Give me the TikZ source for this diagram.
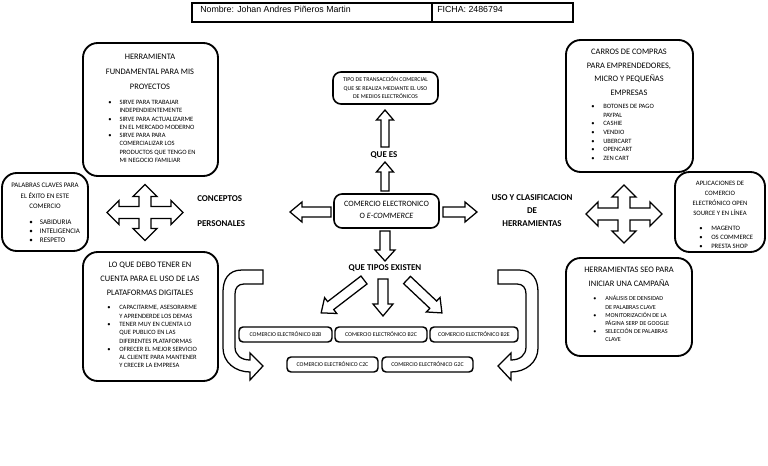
\documentclass[tikz,border=0pt]{standalone}
\usepackage{fontspec}
\setmainfont{Carlito}
\newfontfamily\hdrfont{Liberation Sans}
\usetikzlibrary{fit}
\newcommand\ctext[1]{\begin{tabular}[t]{@{}c@{}}#1\end{tabular}}
\newcommand\blist[2]{\begin{tabular}[t]{@{}p{#1}@{}l@{}}#2\end{tabular}}
\newcommand\barrow[6]{\draw[arrowline, shift={(#1)}, rotate=#2] (0,-#4) -- ({#3-#6},-#4) -- ({#3-#6},-#5) -- (#3,0) -- ({#3-#6},#5) -- ({#3-#6},#4) -- (0,#4) -- cycle;}
\newcommand\crossarrow[7]{% center, a, b, s, h, l
\draw[arrowline, shift={(#1)}] (#2,0) -- ({#2-#6},#5) -- ({#2-#6},#4) -- (#4,#4) -- (#4,{#3-#6}) -- (#5,{#3-#6}) -- (0,#3) -- (-#5,{#3-#6}) -- (-#4,{#3-#6}) -- (-#4,#4) -- ({-#2+#6},#4) -- ({-#2+#6},#5) -- (-#2,0) -- ({-#2+#6},-#5) -- ({-#2+#6},-#4) -- (-#4,-#4) -- (-#4,{-#3+#6}) -- (-#5,{-#3+#6}) -- (0,-#3) -- (#5,{-#3+#6}) -- (#4,{-#3+#6}) -- (#4,-#4) -- ({#2-#6},-#4) -- ({#2-#6},-#5) -- cycle;}
\begin{document}
\begin{tikzpicture}[x=0.75pt,y=-0.75pt,
  bigbox/.style={draw, line width=1.4pt, rounded corners=11pt, inner sep=0pt},
  midbox/.style={draw, line width=1.2pt, rounded corners=6pt, inner sep=0pt},
  typebox/.style={draw, line width=1.1pt, rounded corners=3pt, inner sep=0pt},
  typetext/.style={inner sep=0pt, font=\fontsize{4.4}{5}\selectfont},
  arrowline/.style={draw, line width=0.95pt, fill=white, line join=miter},
  title/.style={inner sep=0pt, font=\fontsize{6.3}{10.9}\selectfont},
  stitle/.style={inner sep=0pt, font=\fontsize{5}{7.6}\selectfont},
  blt/.style={inner sep=0pt, font=\fontsize{4.9}{6.2}\selectfont},
  lbl/.style={inner sep=0pt, font=\fontsize{6.7}{9.8}\selectfont\bfseries},
  hdr/.style={inner sep=0pt, font=\hdrfont\fontsize{6.6}{8}\selectfont}]
\useasboundingbox (0,0) rectangle (768,466);
\fill[white] (0,0) rectangle (768,466);

% header
\node (head) [draw, line width=0.8pt, inner sep=0pt, fit={(192,3) (573,22)}] {};
\draw[line width=0.8pt] (432,3) -- (432,22);
\node (nombre) [hdr, anchor=base west] at (200,12.5) {Nombre: Johan Andres Piñeros Martin};
\node (ficha) [hdr, anchor=base west] at (437,12.5) {FICHA: 2486794};

% top-left box
\node (tl) [bigbox, fit={(83,43) (218,176)}] {};
\node (tlt) [title, anchor=base] at (150,60) {\ctext{HERRAMIENTA\\FUNDAMENTAL PARA MIS\\PROYECTOS}};
\node (tll) [blt, anchor=base west] at (108,104.5) {\blist{8.5pt}{\textbullet & SIRVE PARA TRABAJAR\\ & INDEPENDIENTEMENTE\\ \textbullet & SIRVE PARA ACTUALIZARME\\ & EN EL MERCADO MODERNO\\ \textbullet & SIRVE PARA PARA\\ & COMERCIALIZAR LOS\\ & PRODUCTOS QUE TENGO EN\\ & MI NEGOCIO FAMILIAR}};

% top-right box
\node (tr) [bigbox, fit={(566,40) (693,172)}] {};
\node (trt) [title, font=\fontsize{6.3}{10.1}\selectfont, anchor=base] at (629,55) {\ctext{CARROS DE COMPRAS\\PARA EMPRENDEDORES,\\MICRO Y PEQUEÑAS\\EMPRESAS}};
\node (trl) [blt, font=\fontsize{4.9}{6.5}\selectfont, anchor=base west] at (591,108.5) {\blist{9pt}{\textbullet & BOTONES DE PAGO\\ & PAYPAL\\ \textbullet & CASHIE\\ \textbullet & VENDIO\\ \textbullet & UBERCART\\ \textbullet & OPENCART\\ \textbullet & ZEN CART}};

% left small box
\node (ls) [bigbox, fit={(2,173) (88,251)}] {};
\node (lst) [stitle, font=\fontsize{5.2}{7.9}\selectfont, anchor=base] at (45,187.5) {\ctext{PALABRAS CLAVES PARA\\EL ÉXITO EN ESTE\\COMERCIO}};
\node (lsl) [blt, font=\fontsize{5.3}{6.7}\selectfont, anchor=base west] at (29,224.5) {\blist{8pt}{\textbullet & SABIDURIA\\ \textbullet & INTELIGENCIA\\ \textbullet & RESPETO}};

% right small box
\node (rs) [bigbox, fit={(675,172) (765,252)}] {};
\node (rst) [stitle, font=\fontsize{5}{7.3}\selectfont, anchor=base] at (720,186) {\ctext{APLICACIONES DE\\COMERCIO\\ELECTRÓNICO OPEN\\SOURCE Y EN LÍNEA}};
\node (rsl) [blt, font=\fontsize{5}{6.4}\selectfont, anchor=base west] at (699,231) {\blist{9pt}{\textbullet & MAGENTO\\ \textbullet & OS COMMERCE\\ \textbullet & PRESTA SHOP}};

% bottom-left box
\node (bl) [bigbox, fit={(83,252) (218,381)}] {};
\node (blt) [title, font=\fontsize{6.3}{10.5}\selectfont, anchor=base] at (150,268) {\ctext{LO QUE DEBO TENER EN\\CUENTA PARA EL USO DE LAS\\PLATAFORMAS DIGITALES}};
\node (bll) [blt, anchor=base west] at (107,310) {\blist{9pt}{\textbullet & CAPACITARME, ASESORARME\\ & Y APRENDERDE LOS DEMAS\\ \textbullet & TENER MUY EN CUENTA LO\\ & QUE PUBLICO EN LAS\\ & DIFERENTES PLATAFORMAS\\ \textbullet & OFRECER EL MEJOR SERVICIO\\ & AL CLIENTE PARA MANTENER\\ & Y CRECER LA EMPRESA}};

% bottom-right box
\node (br) [bigbox, fit={(566,258) (692,356)}] {};
\node (brt) [title, font=\fontsize{6.3}{9.8}\selectfont, anchor=base] at (629,273) {\ctext{HERRAMIENTAS SEO PARA\\INICIAR UNA CAMPAÑA}};
\node (brl) [blt, font=\fontsize{4.6}{6.1}\selectfont, anchor=base west] at (593,301) {\blist{9pt}{\textbullet & ANÁLISIS DE DENSIDAD\\ & DE PALABRAS CLAVE\\ \textbullet & MONITORIZACIÓN DE LA\\ & PÁGINA SERP DE GOOGLE\\ \textbullet & SELECCIÓN DE PALABRAS\\ & CLAVE}};

% centre column
\node (def) [midbox, fit={(333,72) (438,104)}] {};
\node (deft) [inner sep=0pt, font=\fontsize{4.4}{6.4}\selectfont, anchor=base] at (385.5,81.5) {\ctext{TIPO DE TRANSACCIÓN COMERCIAL\\QUE SE REALIZA MEDIANTE EL USO\\DE MEDIOS ELECTRÓNICOS}};
\node (core) [midbox, fit={(334,194) (439,228)}] {};
\node (coret) [inner sep=0pt, font=\fontsize{6.1}{8.4}\selectfont, anchor=base] at (386.5,207) {\ctext{COMERCIO ELECTRONICO\\O \textit{E-COMMERCE}}};
\node (quees) [lbl, anchor=base] at (384,157.5) {QUE ES};
\node (tipos) [lbl, anchor=base] at (385,270.5) {QUE TIPOS EXISTEN};
\node (conc) [lbl, anchor=base west] at (197,201.5) {CONCEPTOS};
\node (pers) [lbl, anchor=base west] at (197,226.5) {PERSONALES};
\node (uso) [lbl, anchor=base] at (532,200.5) {\ctext{USO Y CLASIFICACION\\DE\\HERRAMIENTAS}};

% type boxes
\node (b2b) [typebox, fit={(239,327) (332,342)}] {};
\node (b2bt) [typetext] at (b2b.center) {COMERCIO ELECTRÓNICO B2B};
\node (b2c) [typebox, fit={(335,327) (427,342)}] {};
\node (b2ct) [typetext] at (b2c.center) {COMERCIO ELECTRÓNICO B2C};
\node (b2e) [typebox, fit={(430,327) (518,342)}] {};
\node (b2et) [typetext] at (b2e.center) {COMERCIO ELECTRÓNICO B2E};
\node (c2c) [typebox, fit={(287,357) (378,372)}] {};
\node (c2ct) [typetext] at (c2c.center) {COMERCIO ELECTRÓNICO C2C};
\node (g2c) [typebox, fit={(382,357) (473,372)}] {};
\node (g2ct) [typetext] at (g2c.center) {COMERCIO ELECTRÓNICO G2C};

% block arrows
\barrow{385,147}{90}{37}{4}{8.5}{10}
\barrow{385,191}{90}{29}{4}{8.5}{10}
\barrow{331,212}{180}{41}{5}{10}{12}
\barrow{443,212}{0}{34}{5}{10}{12}
\barrow{385,231}{-90}{30}{5}{10}{11}
\barrow{364,280}{217.5}{54}{5}{10}{12}
\barrow{383,279}{-90}{37}{5}{10}{12}
\barrow{407,280}{-43.3}{48}{5}{10}{12}

% four-way arrows
\crossarrow{145,212.5}{38}{28}{6}{12}{12}{}
\crossarrow{624,214}{38}{29}{6}{12}{12}{}

% curved arrows
\newcommand\curvearrow{(263,270) -- (242,270) .. controls (228,270) and (223,280) .. (223,292) -- (223,348) .. controls (223,362) and (235,372) .. (250,372) -- (250,380) -- (263,366) -- (250,353) -- (250,360) .. controls (241,360) and (235,355) .. (235,347) -- (235,294) .. controls (235,288) and (238,284) .. (244,284) -- (263,284) -- cycle}
\draw[arrowline] \curvearrow;
\begin{scope}[shift={(761,0)}, xscale=-1]
\draw[arrowline] \curvearrow;
\end{scope}
\end{tikzpicture}
\end{document}
